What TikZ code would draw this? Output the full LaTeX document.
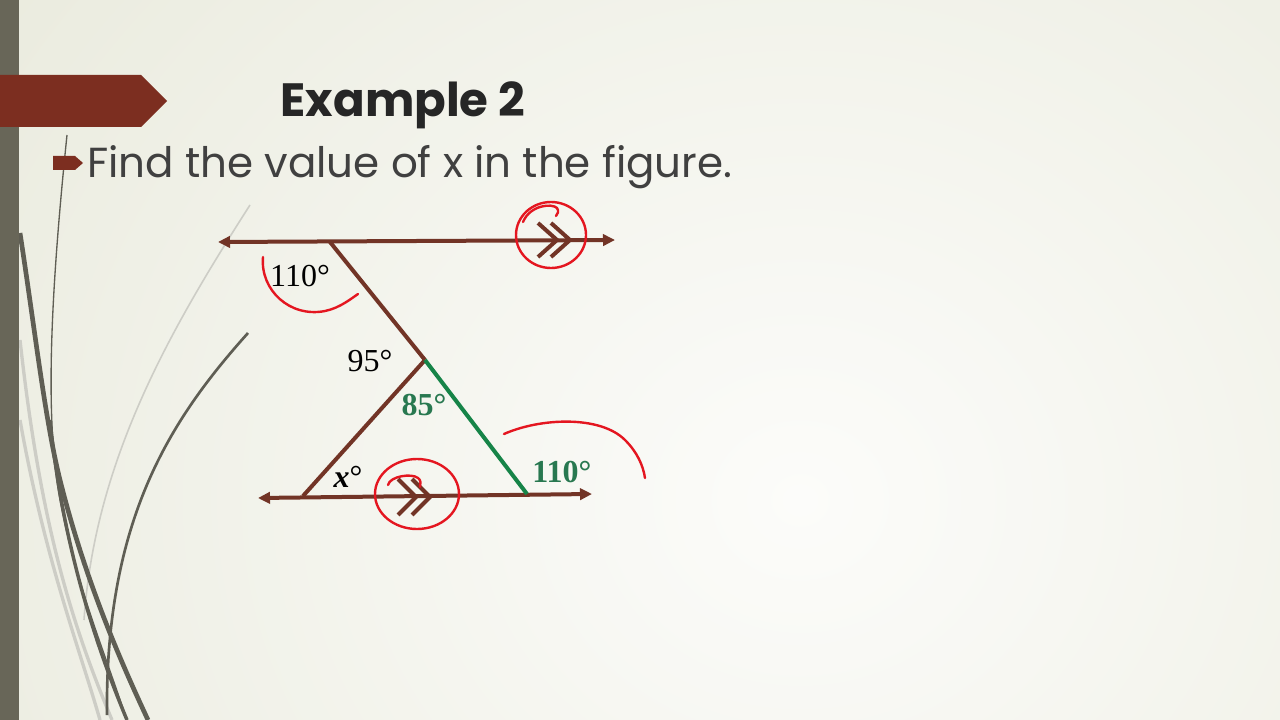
\documentclass[tikz,border=0pt]{standalone}
\usepackage{fontspec}
\setmainfont{Liberation Serif}
\newfontfamily\gothic{Poppins}
\usetikzlibrary{arrows.meta}
\definecolor{bgout}{RGB}{234,235,222}
\definecolor{bgin}{RGB}{252,252,250}
\definecolor{sidebar}{RGB}{104,102,88}
\definecolor{banner}{RGB}{124,46,32}
\definecolor{lineb}{RGB}{114,52,38}
\definecolor{lineg}{RGB}{22,132,72}
\definecolor{textg}{RGB}{40,120,80}
\definecolor{pen}{RGB}{228,22,32}
\definecolor{deco}{RGB}{95,94,84}
\definecolor{decolight}{RGB}{205,205,198}
\definecolor{titlec}{RGB}{38,38,38}
\definecolor{bodyc}{RGB}{64,64,64}
\tikzset{
  geo/.style={line width=3pt, color=lineb},
  geog/.style={line width=3pt, color=lineg},
  dbl/.style={geo, {Triangle[length=9pt,width=8.5pt]}-{Triangle[length=9pt,width=8.5pt]}},
  chev/.style={line width=3pt, color=lineb, line cap=butt},
  penline/.style={line width=1.8pt, color=pen, line cap=round, line join=round},
  lbl/.style={inner sep=0pt, font=\fontsize{24}{24}\selectfont},
  decothin/.style={line width=1pt, color=deco},
  decothick/.style={line width=3.5pt, color=deco},
  decofaint/.style={line width=2.5pt, color=decolight},
}
\begin{document}
\begin{tikzpicture}[x=0.75pt,y=-0.75pt]
\useasboundingbox (0,0) rectangle (1280,720);
% background
\fill[bgout] (0,0) rectangle (1280,720);
\shade[inner color=bgin, outer color=bgout] (-200,-400) rectangle (1800,1400);
% decorative curves
\draw[decofaint] (20,340) .. controls (40,520) and (70,620) .. (112,720);
\draw[decofaint] (20,420) .. controls (45,560) and (80,650) .. (100,720);
\draw[line width=1.2pt, color=decolight] (250,205) .. controls (170,330) and (95,460) .. (84,620);
\draw[decothin] (67,135) .. controls (50,300) and (45,420) .. (60,500) .. controls (75,580) and (100,640) .. (127,720);
\draw[decothick] (20,233) .. controls (35,330) and (45,420) .. (60,480) .. controls (85,580) and (120,660) .. (148,720);
\draw[decothick, line width=2.6pt] (50,420) .. controls (60,520) and (85,620) .. (127,720);
\draw[line width=2pt, color=deco] (248,333) .. controls (170,420) and (105,520) .. (107,715);
% sidebar
\fill[sidebar] (0,0) rectangle (19,720);
% banner
\fill[banner] (0,75) -- (141,75) -- (167,101) -- (141,127) -- (0,127) -- cycle;
\node[font=\gothic\bfseries\fontsize{35}{35}\selectfont, text=titlec, inner sep=0pt] (title) at (403,105) {Example 2};
% bullet
\fill[banner] (53,156) -- (75,156) -- (83,163) -- (75,170) -- (53,170) -- cycle;
\node[font=\gothic\fontsize{31.5}{31.5}\selectfont, text=bodyc, anchor=west, inner sep=0pt] (body) at (87,167) {Find the value of x in the figure.};
% geometry
\coordinate (TL) at (218,242);
\coordinate (TR) at (615,240);
\coordinate (BL) at (258,498);
\coordinate (BR) at (592,494);
\coordinate (P) at (330,242);
\coordinate (Q) at (425,360);
\coordinate (R) at (303,496);
\coordinate (S) at (527,494);
\draw[dbl] (TL) -- (TR);
\draw[dbl] (BL) -- (BR);
\draw[geo] (P) -- (Q);
\draw[geo] (Q) -- (R);
\draw[geog] (Q) -- (S);
% chevrons top
\draw[chev] (538,223) -- (557,240) -- (538,257);
\draw[chev] (551,223) -- (570,240) -- (551,257);
% chevrons bottom
\draw[chev] (398,479) -- (416,497) -- (398,515);
\draw[chev] (412,479) -- (430,497) -- (412,515);
% labels
\node[lbl] (a110) at (300,276) {110°};
\node[lbl] (a95) at (370,361) {95°};
\node[lbl, text=textg] (a85) at (424,405) {\textbf{85°}};
\node[lbl] (ax) at (348,477) {\textbf{\textit{x}}°};
\node[lbl, text=textg] (b110) at (562,472) {\textbf{110°}};
% pen marks
\draw[penline] (551,235) ellipse [x radius=35, y radius=33];
\draw[penline] (523,222) .. controls (530,205) and (552,203) .. (557,208) .. controls (559,211) and (558,214) .. (556,216);
\draw[penline] (417,494) ellipse [x radius=42, y radius=35];
\draw[penline] (388,485) .. controls (390,476) and (412,473) .. (418,478) .. controls (421,480) and (421,484) .. (420,487);
\draw[penline] (263,257) .. controls (260,290) and (290,318) .. (325,311) .. controls (340,308) and (352,298) .. (358,294);
\draw[penline] (504,434) .. controls (540,418) and (600,415) .. (625,440) .. controls (637,452) and (643,465) .. (645,478);
\end{tikzpicture}
\end{document}
